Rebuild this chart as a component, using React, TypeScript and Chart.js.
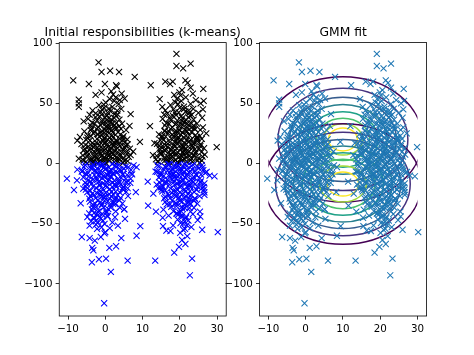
import React, { useEffect, useRef } from "react";
import { Chart, registerables } from "chart.js";
Chart.register(...registerables);

// ---------- axes / text ----------
const xTicks = [-10, 0, 10, 20, 30];
const yTicks = [-100, -50, 0, 50, 100];
const xRange = [-12.35, 32.45];
const yRange = [-126.6, 100.4];
const panelTitles = ["Initial responsibilities (k-means)", "GMM fit"];

// ---------- data: cluster near x = 0 ----------
const clusterAUpper: [number, number][] = [
  [-5.2,1.5],[-3.8,4.2],[-2.1,0.8],[-0.5,2.9],[0.9,6.1],[2.4,1.2],[3.7,3.8],[5.1,2.2],[6.3,5.5],[-4.4,7.9],[-1.3,8.6],[1.6,9.4],[4.2,7.1],[-2.9,5.6],[0.2,0.4],[-6.1,3.3],[2.9,4.9],[-0.9,6.6],[1.2,2.5],[3.3,9.8],[-3.2,2.1],[4.8,0.6],[-1.8,3.6],[0.6,8.1],[-4.9,5.9],[2.1,7.7],
  [-5.5,12.1],[-3.6,14.7],[-1.9,11.3],[-0.2,16.4],[1.5,13.2],[3.1,18.5],[4.6,11.8],[6.0,15.9],[-4.1,19.2],[-2.4,17.6],[0.7,19.8],[2.6,10.6],[-1.1,13.9],[3.9,14.6],[-3.0,10.2],[1.9,16.8],[-0.6,18.9],[5.2,17.3],[-6.4,16.1],[0.1,12.5],[2.3,15.0],[-2.7,15.3],
  [-4.8,21.4],[-3.1,24.9],[-1.6,22.2],[0.3,27.3],[1.8,23.1],[3.4,26.0],[4.9,22.8],[-2.3,28.6],[-0.4,21.0],[2.6,29.4],[-5.6,26.7],[1.0,25.2],[3.9,20.6],[-1.2,26.1],[0.8,29.9],[-3.7,29.1],[5.6,27.8],[2.1,21.9],
  [-3.9,31.5],[-2.2,35.8],[-0.7,33.2],[0.9,37.6],[2.5,31.9],[3.8,36.4],[-1.5,39.2],[1.4,34.1],[-4.6,37.0],[4.5,33.0],[0.2,30.7],[2.9,39.5],[-2.9,32.8],[-0.1,38.4],[6.5,31.2],
  [-2.6,41.6],[-0.9,44.8],[0.6,42.3],[1.9,47.1],[3.2,43.9],[-1.7,48.5],[2.4,51.9],[1.2,53.6],[3.6,49.4],[-0.3,46.2],[4.3,45.3],[-3.4,44.0],[2.8,54.8],[0.1,50.7],[3.9,52.6],[-4.2,40.5],
  [-8.6,69],[-4.4,66],[-1.8,84],[-1.0,76],[1.3,77],[3.7,76],[2.9,65],[3.1,64],[-0.1,66],[-1.0,59],[-7.1,53],[-7.1,50],[-7.1,47],[7.9,72],[9.3,18],[7.5,10],[-7.1,4],[-7.5,19],[4.4,58],[5.2,54],[1.6,60],[-2.6,57],[-5.8,35],[-6.8,22],[6.8,41],[5.8,8]
];
const clusterACoreUpper: [number, number][] = [
  [-3.4,3.1],[-2.6,6.8],[-1.5,1.9],[-0.2,5.2],[0.8,3.4],[1.9,8.9],[2.8,2.6],[3.9,6.2],[-4.2,10.9],[-3.1,13.4],[-1.8,9.7],[-0.7,12.1],[0.4,15.8],[1.3,11.2],[2.2,14.3],[3.3,12.7],[4.4,9.3],[-2.2,20.4],[-1.0,23.7],[0.1,18.0],
  [1.1,21.5],[2.0,25.9],[2.9,19.3],[-3.5,17.0],[-0.3,28.2],[0.9,31.4],[1.7,27.6],[-1.9,30.5],[-0.8,35.2],[0.5,39.8],[1.6,36.7],[2.6,41.3],[-1.2,42.9],[3.0,33.8],[0.2,24.6],[-2.9,26.3],[4.1,24.1],[-4.5,14.2],[5.3,12.9],[-5.2,8.5],
  [6.0,2.0],[-0.5,0.9],[1.5,5.7],[-2.3,4.5],[3.6,16.0],[-3.9,22.8],[2.4,37.9],[1.0,45.6],[-0.4,48.9],[2.1,57.3],[-1.6,15.0],[0.6,10.0],[3.1,29.3],[-2.6,38.5],[4.8,19.8],[-5.8,11.0],[-1.1,6.3],[2.5,17.4],[0.3,33.6],[-0.1,20.8],
  [-5.8,2.4],[-4.9,9.6],[-5.3,15.4],[-4.7,23.3],[-3.9,27.7],[4.9,4.1],[5.7,9.9],[5.4,14.8],[4.7,21.5],[4.2,28.9],[6.6,12.3],[-6.0,6.7],[-2.8,9.1],[-1.4,17.9],[0.9,14.1],[2.7,23.8],[3.5,1.9],[-0.6,9.9],[1.8,19.1],[-2.0,24.4],
  [0.4,35.9],[-1.3,32.1],[2.0,33.0],[3.3,40.8],[1.4,43.4],[0.0,3.9],[-3.3,0.7],[2.6,6.3],[-4.0,2.6],[6.8,7.0],[5.9,20.1],[-5.1,19.7],[-3.5,33.9],[3.7,31.0],[-2.1,13.1],[1.0,7.2],[-0.9,26.8],[4.0,17.2],[1.3,28.5],[-1.0,40.6]
];

const clusterALower: [number, number][] = [
  [-5.4,-1.2],[-3.7,-4.5],[-2.0,-0.7],[-0.4,-3.3],[1.1,-6.2],[2.6,-1.9],[4.0,-4.8],[5.5,-2.6],[6.9,-5.4],[-4.6,-7.9],[-1.2,-8.7],[0.5,-9.5],[3.2,-7.4],[-2.8,-5.9],[1.8,-0.5],[-6.3,-6.6],[4.8,-8.8],[7.6,-1.5],[-0.8,-2.0],[2.3,-9.2],
  [-5.9,-11.4],[-4.0,-14.8],[-2.3,-12.1],[-0.6,-16.5],[1.0,-13.3],[2.7,-18.6],[4.3,-11.9],[5.8,-15.6],[-3.3,-19.1],[-1.5,-17.3],[0.4,-19.7],[3.6,-14.2],[-0.1,-11.0],[2.0,-15.9],[6.8,-12.7],[-5.0,-17.2],[1.5,-10.4],[4.9,-19.4],
  [-5.2,-21.6],[-3.5,-25.1],[-1.8,-22.4],[0.0,-27.5],[1.7,-23.3],[3.3,-26.2],[4.9,-21.9],[-2.6,-28.7],[-0.7,-21.0],[2.5,-29.6],[-4.3,-29.1],[1.1,-25.4],[6.1,-27.0],[-1.3,-26.3],[5.6,-23.5],
  [-4.1,-31.7],[-2.4,-35.9],[-0.8,-33.4],[0.8,-37.8],[2.4,-32.1],[3.9,-36.6],[-1.6,-39.5],[1.3,-34.3],[-3.6,-38.2],[4.6,-33.2],[-0.2,-30.9],[2.8,-39.7],[5.1,-38],
  [-4.3,-41.5],[-3.0,-45.2],[-1.9,-42.6],[-0.6,-47.4],[0.7,-43.8],[1.9,-48.8],[-2.5,-50.6],[-1.0,-52.9],[0.3,-40.9],[-3.8,-48.0],[1.2,-53.7],[-4.8,-44.4],[2.6,-44.6],[-0.2,-50.1],[-2.2,-54.2],[3.4,-51.5],
  [-10.3,-12.5],[-7.6,-14],[-8.4,-22],[-6.6,-33],[-6.3,-61],[-4.2,-62],[-3.2,-72],[-3.6,-82],[-1.7,-79.5],[0.2,-79],[1.1,-70],[2.9,-68.7],[1.5,-90],[-0.3,-116],[6.0,-80.6],[4.3,-62],[8.4,-60],[9.4,-52],[8.2,-23.7],[8.4,-3],[5.3,-46],[5.1,-38],[-0.2,-58],[0,-57],[-2.8,-64],[-3.5,-70],[-1.2,-61],[7.2,-9],[-7.5,-5]
];
const clusterACoreLower: [number, number][] = [
  [-3.5,-2.8],[-2.4,-6.4],[-1.3,-1.6],[0.0,-5.0],[1.0,-3.1],[2.1,-8.3],[3.0,-2.4],[4.2,-6.0],[-4.4,-10.6],[-3.2,-13.2],[-1.9,-9.4],[-0.8,-12.0],[0.3,-15.6],[1.4,-11.0],[2.4,-14.1],[3.5,-12.5],[4.6,-9.1],[-2.4,-20.2],[-1.1,-23.5],[0.2,-18.1],
  [1.2,-21.3],[2.1,-25.7],[3.0,-19.1],[-3.7,-16.8],[-0.4,-28.0],[0.7,-31.2],[1.6,-27.4],[-2.0,-30.3],[-1.0,-35.0],[0.3,-39.6],[1.5,-36.5],[-3.0,-41.1],[-1.5,-44.7],[2.7,-33.6],[0.1,-24.4],[-3.0,-26.1],[3.9,-23.9],[-4.6,-14.0],[5.5,-12.7],[-5.3,-8.3],
  [6.2,-3.0],[-0.6,-0.9],[1.6,-5.5],[-2.2,-4.3],[3.7,-15.8],[-4.0,-22.6],[-2.6,-47.7],[-0.9,-41.8],[-3.3,-36.4],[-1.7,-15.0],[0.7,-9.8],[2.9,-29.1],[-2.7,-33.3],[4.9,-19.6],[-5.9,-20.8],[-1.2,-6.1],[2.6,-17.2],[0.4,-43.4],[-4.2,-51.6],[-1.9,-49.0],
  [-5.7,-2.9],[-5.0,-9.2],[-5.4,-15.8],[-4.8,-23.7],[-4.0,-27.3],[5.0,-4.5],[5.9,-9.4],[5.5,-15.2],[4.6,-21.1],[4.1,-28.5],[6.7,-16.1],[-6.1,-6.1],[-2.9,-9.5],[-1.5,-18.3],[0.8,-14.5],[2.8,-23.4],[3.6,-1.5],[-0.5,-10.3],[1.9,-19.5],[-2.1,-24.8],
  [-0.4,-36.3],[-1.4,-32.5],[2.1,-33.4],[-2.0,-40.2],[-1.2,-45.8],[0.1,-4.3],[-3.2,-0.9],[2.7,-6.7],[-4.1,-3.0],[7.0,-7.9],[6.0,-20.5],[-5.2,-19.3],[-3.4,-34.3],[3.8,-30.6],[-2.2,-13.5],[1.1,-7.6],[-0.8,-27.2],[4.1,-17.6],[1.2,-28.9],[-3.1,-44.6]
];

// ---------- data: cluster near x = 20 ----------
const clusterBUpper: [number, number][] = [
  [14.2,1.3],[15.8,4.4],[17.3,0.9],[18.9,3.1],[20.4,6.3],[21.8,1.4],[23.2,4.0],[24.7,2.3],[26.1,5.7],[15.1,8.1],[18.0,8.8],[20.9,9.5],[23.7,7.2],[16.6,5.8],[19.6,0.5],[13.6,3.5],[22.5,9.9],[25.4,0.7],[17.9,6.0],[21.3,3.7],[19.1,8.3],[24.2,8.4],
  [14.5,12.3],[16.2,14.9],[17.8,11.5],[19.4,16.6],[21.0,13.4],[22.6,18.7],[24.1,12.0],[25.6,16.1],[15.6,19.4],[17.3,17.8],[20.2,19.9],[22.0,10.8],[18.6,14.0],[23.4,14.8],[16.1,10.4],[21.4,17.0],[19.0,19.0],[24.7,18.5],[13.9,16.3],[20.5,12.6],
  [15.2,21.6],[16.9,25.1],[18.4,22.4],[20.0,27.5],[21.6,23.3],[23.1,26.2],[24.6,22.0],[17.5,28.8],[19.3,21.1],[22.1,29.6],[15.9,26.9],[20.8,25.4],[25.5,27.9],[18.7,26.3],[23.8,29.2],[14.4,24.2],
  [16.0,31.7],[17.6,35.9],[19.1,33.3],[20.7,37.7],[22.3,32.1],[23.7,36.5],[18.2,39.3],[21.2,34.2],[15.4,37.1],[24.6,33.1],[19.9,30.8],[22.8,39.6],[17.1,32.9],[26.0,38],
  [16.7,41.7],[18.3,44.9],[19.7,42.4],[21.1,47.2],[22.4,44.0],[17.5,48.6],[20.4,51.9],[19.2,53.7],[22.9,49.5],[20.0,46.3],[23.6,45.4],[16.1,44.1],[21.6,54.9],[18.8,50.8],[24.3,52.7],[15.8,40.6],[25.0,42],
  [12.2,65],[19.1,91],[19.1,81],[20.9,79],[22.9,83],[16.1,68],[18.1,68],[17.4,66],[21.5,69],[22.1,67],[26.3,62],[22.9,63],[23.5,58],[14.6,53.5],[12.0,31],[13.2,17],[29.9,13.6],[26.4,52],[25.6,50],[26.2,45],[26.2,30],[25.4,23],[19.9,59],[20.6,61],[18.5,57],[15.3,47],[27.1,25],[12.8,7]
];
const clusterBCoreUpper: [number, number][] = [
  [16.7,3.3],[17.5,7.1],[18.4,2.2],[19.9,5.6],[20.7,3.0],[21.8,8.4],[22.9,2.9],[23.8,6.5],[15.9,11.2],[16.8,13.9],[18.3,9.4],[19.2,12.6],[20.5,15.3],[21.2,11.7],[22.3,14.0],[23.4,13.1],[24.3,9.7],[17.7,20.9],[19.1,23.2],[20.0,18.4],
  [21.2,21.0],[21.9,26.4],[23.0,19.7],[16.4,17.5],[19.8,27.8],[20.8,31.9],[21.8,27.1],[18.0,30.0],[19.3,35.7],[20.4,39.3],[21.7,36.2],[22.5,41.8],[18.7,42.4],[23.1,33.3],[20.3,24.1],[17.0,26.8],[24.2,23.6],[15.4,14.7],[25.2,12.4],[14.9,8.0],
  [25.9,2.5],[19.4,1.2],[21.6,5.2],[17.6,4.9],[23.7,16.5],[16.2,22.3],[22.3,38.4],[21.1,45.1],[19.5,49.4],[20.2,56.6],[18.5,15.5],[20.7,9.5],[23.2,29.8],[17.3,38.0],[24.7,20.3],[14.8,11.5],[19.0,6.8],[22.4,17.9],[20.2,33.1],[19.8,21.3],
  [14.1,2.0],[14.9,9.2],[14.6,15.0],[15.2,22.9],[16.0,27.3],[25.0,4.5],[25.8,9.5],[25.5,14.4],[24.6,21.1],[24.1,28.5],[26.5,12.7],[13.8,6.3],[17.1,9.5],[18.7,17.5],[20.9,14.5],[22.6,23.4],[23.4,1.5],[19.4,9.5],[21.8,19.5],[18.0,24.0],
  [20.5,35.5],[18.8,32.5],[22.0,33.4],[23.2,40.4],[21.5,43.0],[20.1,3.5],[16.8,1.1],[22.7,6.7],[15.9,2.2],[26.7,7.4],[25.9,20.5],[14.8,19.3],[16.4,33.5],[23.7,31.4],[17.9,13.5],[21.1,7.6],[19.2,26.4],[24.0,17.6],[21.3,28.1],[19.0,40.2]
];

const clusterBLower: [number, number][] = [
  [14.0,-1.3],[15.6,-4.6],[17.2,-0.8],[18.8,-3.4],[20.3,-6.3],[21.9,-1.9],[23.3,-4.9],[24.8,-2.7],[26.3,-5.5],[15.0,-8.0],[18.3,-8.8],[19.9,-9.6],[22.6,-7.5],[16.7,-6.0],[21.2,-0.6],[13.5,-6.7],[24.3,-8.9],[25.9,-1.4],[19.5,-2.1],[17.6,-9.3],
  [14.4,-11.5],[16.1,-14.9],[17.7,-12.2],[19.3,-16.6],[20.9,-13.4],[22.5,-18.7],[24.0,-12.0],[25.5,-15.7],[15.5,-19.2],[17.2,-17.4],[20.1,-19.8],[22.0,-10.7],[18.6,-11.1],[23.3,-14.3],[19.8,-15.5],[26.4,-19.6],[21.5,-17.0],[13.8,-17.5],
  [15.1,-21.7],[16.8,-25.2],[18.3,-22.5],[19.9,-27.6],[21.5,-23.4],[23.0,-26.3],[24.5,-21.9],[17.4,-28.8],[19.2,-21.2],[22.2,-29.7],[15.8,-29.0],[20.7,-25.5],[25.3,-27.1],[18.6,-26.4],[24.0,-29.3],[26.6,-24],
  [16.1,-31.8],[17.7,-36.0],[19.2,-33.4],[20.8,-37.9],[22.3,-32.2],[23.8,-36.7],[18.3,-39.6],[21.3,-34.4],[15.6,-38.3],[24.7,-33.3],[20.0,-30.9],[22.9,-39.8],[19.6,-42.5],[21.7,-44.1],[17.0,-43.2],[23.5,-42.0],[25.4,-40],
  [19.4,-46.5],[20.9,-49.8],[22.3,-47.3],[18.2,-51.4],[21.4,-54.2],[20.1,-57.6],[22.0,-60.3],[20.6,-63.5],[21.5,-66.8],[19.8,-69.2],[23.1,-52.8],[17.5,-56.0],
  [11.4,-15],[11.5,-35],[13.4,-80.6],[18.5,-74],[23.3,-79],[22.7,-92.8],[26,-55],[30.2,-57],[29.3,-10.6],[28,-10],[26.6,-26],[26.4,-22],[16.4,-55.6],[15.5,-52],[13.6,-40],[15.4,-45],[27.2,-7],[24.8,-47],[25.5,-44],[12.9,-25]
];
const clusterBCoreLower: [number, number][] = [
  [16.4,-3.2],[17.7,-6.0],[18.6,-1.2],[20.1,-5.4],[21.1,-2.7],[22.0,-8.7],[23.1,-2.0],[24.1,-6.4],[15.7,-10.2],[16.7,-13.6],[18.2,-9.0],[19.1,-12.4],[20.4,-15.2],[21.3,-11.4],[22.5,-14.5],[23.4,-12.1],[24.5,-9.5],[17.5,-20.6],[19.0,-23.1],[20.3,-18.5],
  [21.3,-21.7],[22.2,-25.3],[22.9,-19.5],[16.2,-16.4],[19.7,-28.4],[20.6,-31.6],[21.7,-27.0],[17.9,-30.7],[19.1,-35.4],[20.2,-39.2],[21.4,-36.9],[19.1,-41.5],[20.6,-44.3],[22.8,-33.2],[20.0,-24.0],[17.1,-26.5],[23.8,-23.5],[15.3,-14.4],[25.4,-12.3],[14.8,-8.7],
  [26.1,-3.4],[19.5,-1.3],[21.7,-5.1],[17.9,-4.7],[23.6,-15.4],[16.1,-22.2],[21.3,-48.1],[19.2,-41.4],[22.6,-36.8],[18.4,-15.4],[20.8,-9.4],[22.8,-29.5],[17.4,-33.7],[24.8,-19.2],[14.2,-20.4],[18.9,-6.5],[22.7,-17.6],[20.5,-43.0],[21.9,-51.2],[20.2,-49.4],
  [14.3,-2.5],[15.0,-9.8],[14.5,-15.4],[15.3,-23.1],[16.1,-27.7],[25.1,-4.1],[25.7,-9.1],[25.6,-14.8],[24.5,-21.5],[24.0,-28.9],[26.6,-16.5],[13.9,-6.9],[17.0,-9.9],[18.6,-17.7],[20.8,-14.1],[22.7,-23.0],[23.5,-1.1],[19.3,-10.7],[21.9,-19.1],[17.9,-24.6],
  [20.6,-36.1],[18.9,-32.9],[22.1,-33.0],[19.9,-40.6],[21.6,-45.4],[20.2,-3.9],[16.9,-0.7],[22.8,-6.3],[16.0,-2.6],[26.8,-7.8],[26.0,-20.1],[14.9,-19.7],[16.5,-33.9],[23.8,-31.0],[18.0,-13.1],[21.2,-7.2],[19.1,-26.8],[24.1,-17.2],[21.2,-28.5],[20.9,-55.0]
];

// ---------- GMM fit contours (two components, ring half-heights in y units) ----------
const upperCenter = [10, 20];
const upperHalfHeights = [52, 42.5, 35, 29, 23, 17.5, 13, 9.5];
const upperWidthRatio = [0.41];
const lowerCenter = [10, -17];
const lowerHalfHeights = [50, 43, 37, 31.5, 26, 20.5, 15, 10];
const lowerWidthRatio = [0.42];
const contourColors = ["#440154", "#46327e", "#365c8d", "#277f8e", "#1fa187", "#4ac16d", "#a0da39", "#fde725"];
const gridXRange = [-10, 30];
const gridYRange = [-120, 100];

const W = 474;
const H = 355;
const AX_TOP = 42.6;
const AX_BOTTOM = 316;
const PANELS = [
  { left: 59.25, right: 226.2 },
  { left: 259.6, right: 426.6 },
];
const FONT = "'DejaVu Sans', 'Liberation Sans', sans-serif";

const toPts = (arr: [number, number][]) => arr.map(([x, y]) => ({ x, y }));

const framePlugin = {
  id: "frameAndTitle",
  afterDraw(chart: any) {
    const { ctx, chartArea } = chart;
    const title = chart.options.plugins.panelTitle?.text ?? "";
    ctx.save();
    ctx.strokeStyle = "#000";
    ctx.lineWidth = 0.8;
    ctx.strokeRect(chartArea.left, chartArea.top, chartArea.right - chartArea.left, chartArea.bottom - chartArea.top);
    ctx.fillStyle = "#000";
    ctx.font = `12.3px ${FONT}`;
    ctx.textAlign = "center";
    ctx.textBaseline = "alphabetic";
    ctx.fillText(title, (chartArea.left + chartArea.right) / 2, chartArea.top - 6.6);
    ctx.restore();
  },
};

const contourPlugin = {
  id: "gmmContours",
  beforeDatasetsDraw(chart: any) {
    if (!chart.options.plugins.gmmContours?.enabled) return;
    const { ctx, chartArea } = chart;
    const xs = chart.scales.x;
    const ys = chart.scales.y;
    const gx0 = Math.max(xs.getPixelForValue(gridXRange[0]), chartArea.left);
    const gx1 = Math.min(xs.getPixelForValue(gridXRange[1]), chartArea.right);
    const gy0 = Math.max(ys.getPixelForValue(gridYRange[1]), chartArea.top);
    const gy1 = Math.min(ys.getPixelForValue(gridYRange[0]), chartArea.bottom);
    ctx.save();
    ctx.beginPath();
    ctx.rect(gx0, gy0, gx1 - gx0, gy1 - gy0);
    ctx.clip();
    ctx.lineWidth = 1.5;
    const comps = [
      { c: upperCenter, hs: upperHalfHeights, r: upperWidthRatio[0] },
      { c: lowerCenter, hs: lowerHalfHeights, r: lowerWidthRatio[0] },
    ];
    comps.forEach((comp) => {
      const cx = xs.getPixelForValue(comp.c[0]);
      const cy = ys.getPixelForValue(comp.c[1]);
      comp.hs.forEach((h, i) => {
        const rx = Math.abs(xs.getPixelForValue(comp.c[0] + h * comp.r) - cx);
        const ry = Math.abs(ys.getPixelForValue(comp.c[1] + h) - cy);
        ctx.strokeStyle = contourColors[i];
        ctx.beginPath();
        ctx.ellipse(cx, cy, rx, ry, 0, 0, Math.PI * 2);
        ctx.stroke();
      });
    });
    ctx.restore();
  },
};

function makeOptions(panel: { left: number; right: number }, yWidth: number, title: string, contours: boolean): any {
  const fmt = (v: any) => String(v).replace("-", "\u2212");
  return {
    responsive: false,
    animation: false,
    devicePixelRatio: 1,
    events: [],
    layout: {
      padding: { left: panel.left - yWidth, right: W - panel.right, top: AX_TOP, bottom: 0 },
    },
    plugins: {
      legend: { display: false },
      tooltip: { enabled: false },
      panelTitle: { text: title },
      gmmContours: { enabled: contours },
    },
    scales: {
      x: {
        type: "linear",
        min: xRange[0],
        max: xRange[1],
        afterBuildTicks: (s: any) => {
          s.ticks = xTicks.map((v) => ({ value: v }));
        },
        afterFit: (s: any) => {
          s.height = H - AX_BOTTOM;
        },
        border: { display: false },
        grid: { drawOnChartArea: false, drawTicks: true, tickLength: 3.6, color: "#000", lineWidth: 0.8 },
        ticks: { color: "#000", font: { family: FONT, size: 10.3 }, padding: 3.2, maxRotation: 0, callback: fmt },
      },
      y: {
        type: "linear",
        min: yRange[0],
        max: yRange[1],
        afterBuildTicks: (s: any) => {
          s.ticks = yTicks.map((v) => ({ value: v }));
        },
        afterFit: (s: any) => {
          s.width = yWidth;
        },
        border: { display: false },
        grid: { drawOnChartArea: false, drawTicks: true, tickLength: 3.6, color: "#000", lineWidth: 0.8 },
        ticks: { color: "#000", font: { family: FONT, size: 10.3 }, padding: 3.2, callback: fmt },
      },
    },
  };
}

export default function App() {
  const leftRef = useRef<HTMLCanvasElement>(null);
  const rightRef = useRef<HTMLCanvasElement>(null);

  useEffect(() => {
    const marker = { pointStyle: "crossRot", pointRadius: 4.3, borderWidth: 1.05, showLine: false };
    const lowerAll = [...clusterALower, ...clusterACoreLower, ...clusterBLower, ...clusterBCoreLower];
    const upperAll = [...clusterAUpper, ...clusterACoreUpper, ...clusterBUpper, ...clusterBCoreUpper];
    const left = new Chart(leftRef.current as HTMLCanvasElement, {
      type: "scatter",
      data: {
        datasets: [
          { data: toPts(lowerAll), borderColor: "#0000ff", backgroundColor: "#0000ff", ...marker } as any,
          { data: toPts(upperAll), borderColor: "#000000", backgroundColor: "#000000", ...marker } as any,
        ],
      },
      options: makeOptions(PANELS[0], 59.25, panelTitles[0], false),
      plugins: [contourPlugin, framePlugin],
    });
    const right = new Chart(rightRef.current as HTMLCanvasElement, {
      type: "scatter",
      data: {
        datasets: [
          { data: toPts([...upperAll, ...lowerAll]), borderColor: "#1f77b4", backgroundColor: "#1f77b4", ...marker } as any,
        ],
      },
      options: makeOptions(PANELS[1], 40, panelTitles[1], true),
      plugins: [contourPlugin, framePlugin],
    });
    return () => {
      left.destroy();
      right.destroy();
    };
  }, []);

  const cstyle: React.CSSProperties = { position: "absolute", left: 0, top: 0 };
  return (
    <div style={{ position: "fixed", left: 0, top: 0, width: W, height: H, background: "#fff" }}>
      <canvas ref={leftRef} width={W} height={H} style={cstyle} />
      <canvas ref={rightRef} width={W} height={H} style={cstyle} />
    </div>
  );
}
